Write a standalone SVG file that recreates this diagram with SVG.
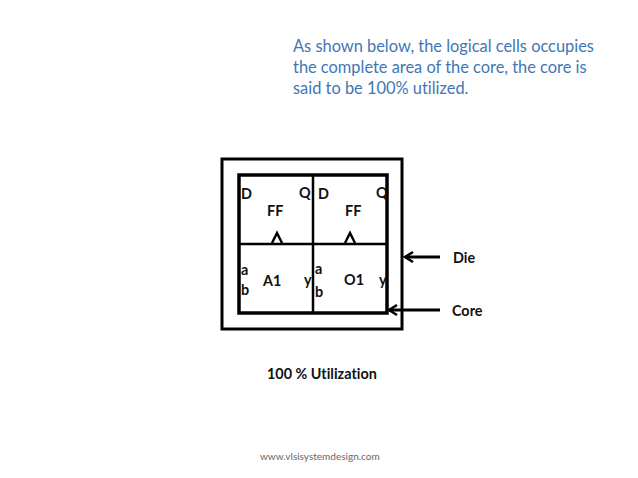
<svg xmlns="http://www.w3.org/2000/svg" width="638" height="478" viewBox="0 0 638 478">
<style>
text{font-family:Lato,"Open Sans",sans-serif;font-variant-ligatures:none}
.b{font-size:14.4px;font-weight:700;fill:#111}
.h{font-size:16.4px;fill:#3f76b5}
.f{font-size:10px;fill:#666}
.l{fill:none;stroke:#000;stroke-width:3}
.c{fill:none;stroke:#000;stroke-width:3.5}
.t{fill:none;stroke:#000;stroke-width:2.5}
</style>
<defs><marker id="a" markerWidth="14" markerHeight="14" refX="10" refY="6" orient="auto" markerUnits="userSpaceOnUse"><path d="M2 1L10 6L2 11" fill="none" stroke="#000" stroke-width="2.5"/></marker></defs>
<rect width="638" height="478" fill="#fff"/>
<g id="caption"><text class="h" x="293" y="52">As shown below, the logical cells occupies</text>
<text class="h" x="293" y="73">the complete area of the core, the core is</text>
<text class="h" x="293" y="94">said to be 100% utilized.</text></g>
<g id="die"><rect class="l" x="222" y="159" width="180" height="170"/></g>
<g id="core"><rect class="c" x="239" y="175" width="148" height="138"/><path class="t" d="M239 244H387M313 175V313"/></g>
<g id="ff1"><text class="b" x="241" y="199">D</text><text class="b" x="299" y="198">Q</text><text class="b" x="267" y="216">FF</text><path class="t" d="M272 243L277 233L282 243"/></g>
<g id="ff2"><text class="b" x="318" y="199">D</text><text class="b" x="376" y="198">Q</text><text class="b" x="345" y="216">FF</text><path class="t" d="M345 243L350 233L355 243"/></g>
<g id="a1"><text class="b" x="241" y="275">a</text><text class="b" x="241" y="295">b</text><text class="b" x="263" y="286">A1</text><text class="b" x="304" y="285">y</text></g>
<g id="o1"><text class="b" x="315" y="274">a</text><text class="b" x="315" y="297">b</text><text class="b" x="344" y="285">O1</text><text class="b" x="379" y="285">y</text></g>
<g id="connectors"><path class="l" d="M440 257H405" marker-end="url(#a)"/><path class="l" d="M440 310H389" marker-end="url(#a)"/></g>
<g id="labels"><text class="b" x="453" y="263">Die</text><text class="b" x="452" y="316">Core</text><text class="b" x="267" y="379">100 % Utilization</text>
<text class="f" x="260" y="460">www.vlsisystemdesign.com</text></g>
</svg>
